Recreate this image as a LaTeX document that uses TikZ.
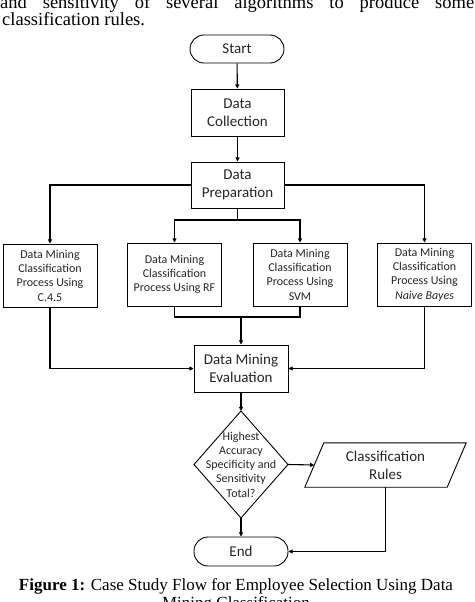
\documentclass[tikz,border=0pt]{standalone}
\usepackage{fontspec}
\setmainfont{Liberation Serif}
\newfontfamily\flowfont{Carlito}
\usetikzlibrary{arrows.meta,calc}

\begin{document}
\begin{tikzpicture}[x=1pt,y=-1pt,
  line/.style={draw=black, line width=1.1pt},
  arr/.style={line, -{Triangle[length=4.2pt,width=4pt]}},
  bigtext/.style={font=\flowfont\fontsize{15}{18}\selectfont, align=center, text=black!85},
  smalltext/.style={font=\flowfont\fontsize{12}{14.3}\selectfont, align=center, text=black!85},
  procbox/.style={bigtext, draw=black, line width=0.9pt, minimum width=93pt, minimum height=47pt, inner sep=0pt},
  algobox/.style={smalltext, draw=black, line width=0.9pt, minimum width=94pt, minimum height=63pt, inner sep=0pt},
  term/.style={bigtext, draw=black, line width=0.9pt, rounded corners=14pt, minimum width=94pt, minimum height=28pt, inner sep=0pt},
  decision/.style={draw=black, line width=0.9pt},
  bodytext/.style={inner sep=0pt, anchor=base west, font=\fontsize{18.5}{20}\selectfont}
]
\useasboundingbox (0,0) rectangle (474,602);

% surrounding paper text
\node[bodytext] (para1) at (0,9) {\makebox[474pt][s]{and sensitivity of several algorithms to produce some}};
\node[bodytext] (para2) at (2,26) {classification rules.};

% main column
\node[term] (start) at (237,49) {Start};
\node[procbox] (coll) at (237.5,112.5) {Data\\Collection};
\node[procbox, minimum height=46pt] (prep) at (237.5,185) {Data\\Preparation};

% algorithm boxes
\node[algobox] (c45) at (50,275.5) {Data Mining\\Classification\\Process Using\\C.4.5};
\node[algobox] (rf) at (174.5,274.5) {Data Mining\\Classification\\Process Using RF};
\node[algobox] (svm) at (300,274.5) {Data Mining\\Classification\\Process Using\\SVM};
\node[algobox] (nb) at (424.5,274.5) {Data Mining\\Classification\\Process Using\\\textit{Naive Bayes}};

\node[procbox, minimum width=94pt] (eval) at (241,368.5) {Data Mining\\Evaluation};

% decision diamond
\coordinate (dec) at (241,464.5);
\draw[decision] (241,411) coordinate (dec-n) -- (288,464.5) coordinate (dec-e)
  -- (241,518) coordinate (dec-s) -- (194,464.5) coordinate (dec-w) -- cycle;
\node[smalltext, inner sep=0pt] (dectext) at (241,464.5) {Highest\\Accuracy\\Specificity and\\Sensitivity\\Total?};

% output parallelogram
\node[bigtext, minimum width=142pt, minimum height=44pt, inner sep=0pt] (rules) at (385.5,465) {Classification\\Rules};
\draw[decision] ($(rules.north west)+(9.5,0)$) -- ($(rules.north east)+(9.5,0)$)
  -- ($(rules.south east)+(-9.5,0)$) -- ($(rules.south west)+(-9.5,0)$) -- cycle;

\node[term, minimum height=29pt] (end) at (241,551.5) {End};

% connectors
\draw[arr] (start) -- (coll);
\draw[arr] (coll) -- (prep);
\draw[arr] (prep.west) -| (c45.north);
\draw[arr] (prep.east) -| (nb.north);
\coordinate (split) at (237.5,220);
\draw[line] (prep.south) -- (split);
\draw[arr] (split) -| (rf.north);
\draw[arr] (split) -| (svm.north);
\coordinate (merge) at (241,317);
\draw[line] (rf.south) |- (merge) -| (svm.south);
\draw[arr] (merge) -- (eval.north);
\draw[arr] (c45.south) |- (eval.west);
\draw[arr] (nb.south) |- (eval.east);
\draw[arr] (eval.south) -- (dec-n);
\draw[arr] (dec-e) -- (rules.west);
\draw[arr] (dec-s) -- (end.north);
\draw[arr] (rules.south) |- (end.east);

% caption
\node[inner sep=0pt, anchor=base, font=\fontsize{17}{19}\selectfont] (cap1) at (236,590) {\textbf{Figure 1:} Case Study Flow for Employee Selection Using Data};
\node[inner sep=0pt, anchor=base, font=\fontsize{17}{19}\selectfont] (cap2) at (236,608) {Mining Classification};
\end{tikzpicture}
\end{document}
